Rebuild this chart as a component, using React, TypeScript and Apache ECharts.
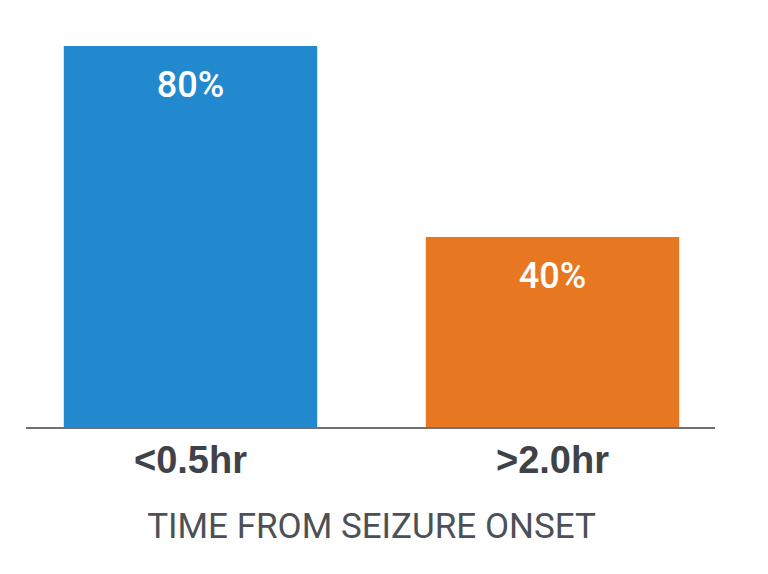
import { useEffect, useRef } from "react";
import * as echarts from "echarts";

const categories = ["<0.5hr", ">2.0hr"];
const values = [80, 40];
const barColors = ["#2389cf", "#e87722"];
const axisTitle = "TIME FROM SEIZURE ONSET";

export default function App() {
  const ref = useRef<HTMLDivElement>(null);

  useEffect(() => {
    if (!ref.current) return;
    const chart = echarts.init(ref.current, null, { renderer: "svg" });

    chart.setOption({
      animation: false,
      backgroundColor: "#ffffff",
      grid: { top: 46, bottom: 146, left: 9.5, right: 34.5 },
      xAxis: {
        type: "category",
        data: categories,
        axisLine: { show: false },
        axisTick: { show: false },
        axisLabel: {
          color: "#3f4247",
          fontFamily: "Liberation Sans",
          fontWeight: "bold",
          fontSize: 38,
          margin: 13,
        },
        name: axisTitle,
        nameLocation: "middle",
        nameGap: 81,
        nameTextStyle: {
          color: "#4d5156",
          fontFamily: "Roboto",
          fontSize: 35,
        },
      },
      yAxis: {
        type: "value",
        min: 0,
        max: 80,
        show: false,
        splitLine: { show: false },
      },
      series: [
        {
          type: "bar",
          data: values.map((v, i) => ({ value: v, itemStyle: { color: barColors[i] } })),
          barCategoryGap: "30%",
          label: {
            show: true,
            position: "insideTop",
            distance: 21,
            formatter: "{c}%",
            color: "#ffffff",
            fontFamily: "Roboto",
            fontWeight: 500,
            fontSize: 36,
          },
        },
      ],
      graphic: [
        {
          type: "line",
          shape: { x1: 26, y1: 428, x2: 715, y2: 428 },
          style: { stroke: "#6e7175", lineWidth: 2 },
          z: 10,
        },
      ],
    });

    return () => chart.dispose();
  }, []);

  return <div ref={ref} style={{ width: 768, height: 574, margin: -8 }} />;
}
